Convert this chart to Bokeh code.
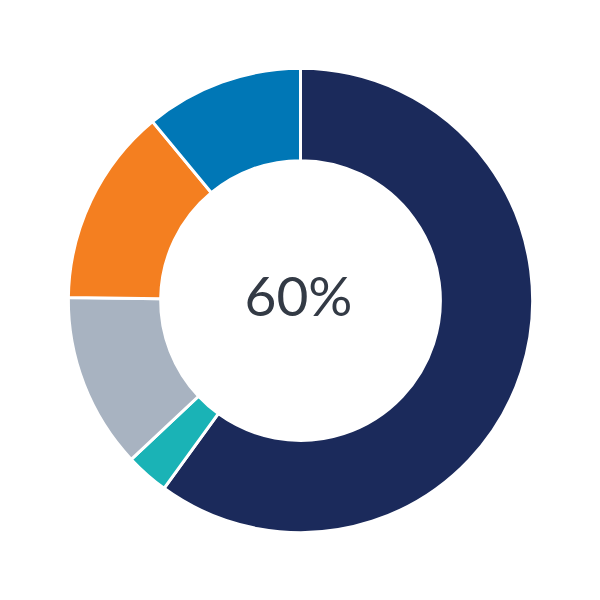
import math

from bokeh.plotting import figure
from bokeh.models import ColumnDataSource
from bokeh.core.properties import value
from bokeh.embed import file_html
from bokeh.resources import INLINE

# slice shares, clockwise from 12 o'clock
labels = ["Navy", "Teal", "Gray", "Orange", "Blue"]
shares = [60, 3, 12.2, 13.8, 11]
colors = ["#1b2a5b", "#1ab3b6", "#a8b3c1", "#f47f20", "#0077b6"]
center_label = "60%"

# start/end angles (bokeh measures counterclockwise from +x)
total = sum(shares)
starts, ends = [], []
acc = 0.0
for s in shares:
    starts.append(math.pi / 2 - acc / total * 2 * math.pi)
    acc += s
    ends.append(math.pi / 2 - acc / total * 2 * math.pi)

source = ColumnDataSource(dict(label=labels, share=shares, color=colors,
                               start=starts, end=ends))

# 292 px per unit, centre placed at (300, 300) of the page
p = figure(width=584, height=584,
           x_range=(-300 / 292, 284 / 292), y_range=(-284 / 292, 300 / 292),
           output_backend="svg", toolbar_location=None, min_border=0)
p.axis.visible = False
p.grid.visible = False
p.outline_line_color = None

p.annular_wedge(x=0, y=0, inner_radius=0.479, outer_radius=0.795,
                start_angle="start", end_angle="end", direction="clock",
                fill_color="color", line_color="white", line_width=3,
                source=source)

p.text(x=[0], y=[0], text=[center_label], text_align="center",
       text_baseline="middle", y_offset=-6, x_offset=-2,
       text_font=value("Lato"), text_font_size="55px",
       text_color="#333a45")

open("out.html", "w").write(file_html(p, INLINE))
